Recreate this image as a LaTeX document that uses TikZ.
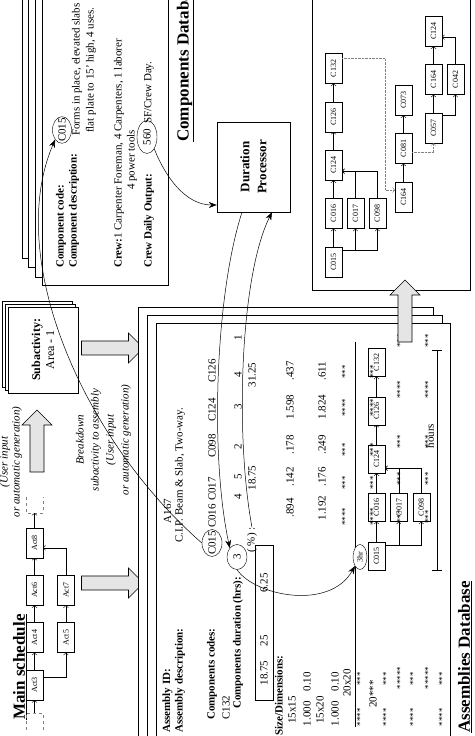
\documentclass[tikz,border=0pt]{standalone}
\usepackage{fontspec}
\setmainfont{Liberation Serif}
\usetikzlibrary{positioning,arrows.meta,shapes.geometric}

\tikzset{
  page/.style={draw, fill=white, line width=0.6pt},
  act/.style={draw, minimum width=30pt, minimum height=17pt, inner sep=0pt, font=\fontsize{8}{9}\selectfont},
  comp/.style={act},
  acomp/.style={act, minimum width=28pt},
  bigarrow/.pic={\draw[fill=gray!20, line width=0.6pt] (-31,7) -- (16,7) -- (16,15) -- (31,0)
    -- (16,-15) -- (16,-7) -- (-31,-7) -- cycle;},
  link/.style={-{Stealth[length=8pt,width=6pt]}, line width=0.5pt},
  circ/.style={ellipse, draw, inner xsep=-2.5pt, inner ysep=0.5pt},
  title/.style={font=\fontsize{17}{20}\selectfont\bfseries, inner sep=0pt},
  txt/.style={font=\fontsize{11}{13}\selectfont, inner sep=0pt},
  stars/.style={font=\fontsize{9}{10}\selectfont, inner sep=0pt},
  note/.style={font=\fontsize{11}{15}\selectfont\itshape, align=center, inner sep=0pt},
}

\begin{document}
\begin{tikzpicture}[rotate=90, transform shape, x=1pt, y=1pt, >=To]
\useasboundingbox (0,-474) rectangle (736,0);

% main schedule
\node[title] (mstitle) at (69,-20) {\underline{Main schedule}};
\node[act] (act3) at (51,-34.5) {Act3};
\node[act, right=17pt of act3] (act4) {Act4};
\node[act, right=17pt of act4] (act6) {Act6};
\node[act, right=17pt of act6] (act8) {Act8};
\node[act, below=14pt of act4] (act5) {Act5};
\node[act, below=14pt of act6] (act7) {Act7};
\coordinate (pre) at (23,-34.5);
\coordinate (post) at (223,-34.5);
\draw[gray, dashed] (6,-26) -| (pre) |- (6,-43);
\draw[gray, dashed] (239,-26) -| (post) |- (239,-43);
\draw[->] (pre) -- (act3);
\draw[->] (act3) -- (act4);
\draw[->] (act4) -- (act6);
\draw[->] (act6) -- (act8);
\draw[->] (act8) -- (post);
\draw[->] ([xshift=8pt]act3.south) |- (act5);
\draw[->] (act5) -- (act7);
\draw[->] (act7) -| ([xshift=-5pt]act8.south);

\node[note, font=\fontsize{11}{12}\selectfont\itshape] (usernote) at (274,-11) {(User input\\or automatic generation)};
\pic (toSub) at (295,-37) {bigarrow};

% subactivity
\draw[page] (349,-2) rectangle (435,-72);
\draw[page] (346,-5) rectangle (432,-75);
\node[draw, fill=white, minimum width=86pt, minimum height=70pt, align=center,
  font=\fontsize{12}{14}\selectfont] (sub) at (386,-43) {\textbf{Subactivity:}\\Area - 1};
\node[note] (breaknote) at (296,-103.5)
  {Breakdown\\subactivity to assembly\\(User input\\or automatic generation)};
\pic[rotate=-90] (toAsmA) at (388,-112.5) {bigarrow};
\pic[rotate=-90] (toAsmB) at (153,-112.5) {bigarrow};

% assemblies database
\draw[page] (-10,-138) rectangle (429,-433);
\draw[page] (-10,-147) rectangle (421,-442);
\draw[page] (-10,-156) rectangle (413,-450);
\node[title, anchor=west] (asmtitle) at (3,-465) {\underline{Assemblies Database}};

\node[txt, anchor=west] at (3,-167.5) {\textbf{Assembly ID:}};
\node[txt] at (225,-167.5) {A167};
\node[txt, anchor=west] at (3,-180) {\textbf{Assembly description:}};
\node[txt, anchor=west] at (193,-180) {C.I.P. Beam \& Slab, Two-way.};
\node[txt, anchor=west] at (16,-212) {\textbf{Components codes:}};
\node[txt, circ, minimum width=27pt, minimum height=20pt] (ac015e) at (193,-212) {C015};
\foreach \u/\c in {220/C016, 247/C017, 290/C098, 326/C124, 365/C126}
  \node[txt] at (\u,-212) {\c};
\node[txt, anchor=west] at (16,-226) {C132};
\node[txt, anchor=west] at (27,-238) {\textbf{Components duration (hrs):}};
\node[txt, circ, minimum width=25pt, minimum height=20pt] (dur3) at (179,-237) {3};
\foreach \u/\c in {239/4, 259/5, 289/2, 329/3, 361/4, 398/1}
  \node[txt] at (\u,-238) {\c};
\node[txt] (pct) at (196,-252) {( \%) :};
\node[txt] at (258,-252) {18.75};
\node[txt] at (361,-252) {31.25};
\draw (36,-255) rectangle (191,-273);
\foreach \u/\c in {63/18.75, 95/25, 153/6.25}
  \node[txt] at (\u,-264) {\c};
\node[txt, anchor=west] at (0,-279) {\textbf{Size/Dimensions:}};
\node[txt] at (26,-292) {15x15};
\foreach \u/\c in {228/.894, 259/.142, 291/.178, 329/1.598, 365/.437}
  \node[txt] at (\u,-290) {\c};
\node[txt] at (37,-307) {1.000\hspace{10pt}0.10};
\node[txt] at (26,-320) {15x20};
\foreach \u/\c in {228/1.192, 259/.176, 291/.249, 329/1.824, 365/.611}
  \node[txt] at (\u,-322) {\c};
\node[txt] at (37,-335) {1.000\hspace{10pt}0.10};
\node[txt] at (53,-347) {20x20};
\foreach \v in {-345,-373}
  \foreach \u/\s in {219/****, 253/***, 286/***, 328/****, 364/***}
    \node[stars] at (\u,\v) {\s};
\foreach \v in {-360,-386,-413,-442} {
  \node[stars] at (19,\v) {****};
  \node[stars] at (57,\v) {***};
}
\node[txt] at (42,-373) {20***};
\node[stars] at (58,-400) {*****};
\node[stars] at (58,-428) {*****};
\foreach \v in {-400,-428}
  \foreach \u/\s in {219/***, 257/***, 294/***, 346/****, 395/***}
    \node[stars] at (\u,\v) {\s};

% assembly network
\draw (9,-355) -- (394,-355);
\node[circ, fill=white, minimum width=25pt, minimum height=14pt, font=\fontsize{8}{9}\selectfont] (hr3) at (179,-360) {3hr};
\node[acomp] (ac015) at (180,-376.5) {C015};
\node[acomp, right=20pt of ac015] (ac016) {C016};
\node[acomp, below=5pt of ac016] (ac017) {C017};
\node[acomp, below=5pt of ac017] (ac098) {C098};
\node[acomp, right=20pt of ac016] (ac124) {C124};
\node[acomp, right=20pt of ac124] (ac126) {C126};
\node[acomp, right=20pt of ac126] (ac132) {C132};
\draw[->] (ac015) -- (ac016);
\draw[->] ([xshift=11pt]ac015.south) |- (ac017);
\draw[->] ([xshift=11pt]ac015.south) |- (ac098);
\draw[->] (ac016) -- (ac124);
\draw[->] (ac017) -| ([xshift=-9pt]ac124.south);
\draw[->] (ac098) -| ([xshift=-9pt]ac124.south);
\draw[->] (ac124) -- (ac126);
\draw[->] (ac126) -- (ac132);
\draw (166,-432) -- (166,-442);
\draw (386,-432) -- (386,-442);
\draw (166,-437) -- (386,-437);
\node[txt] (hours) at (300,-430) {hours};

% components database
\draw[page] (478,-22) rectangle (746,-150);
\draw[page] (469,-28) rectangle (746,-155);
\draw[page] (459,-35) rectangle (746,-161);
\draw[page] (451,-42) rectangle (746,-168);
\node[title, anchor=west] (comptitle) at (594,-185.5) {\underline{Components Database}};
\node[txt, anchor=west] at (468,-61) {\textbf{Component code:}};
\node[txt, circ, minimum width=26pt, minimum height=19pt] (cc015e) at (606,-62) {C015};
\node[txt, anchor=west] at (468,-74) {\textbf{Component description:}};
\node[txt, anchor=west] at (600,-77) {Forms in place, elevated slabs};
\node[txt, anchor=west] at (603,-91) {flat plate to 15' high, 4 uses.};
\node[txt, anchor=west] at (468,-119) {\textbf{Crew:}1 Carpenter Foreman, 4 Carpenters, 1 laborer};
\node[txt] at (576,-132) {4 power tools};
\node[txt, anchor=west] at (468,-149) {\textbf{Crew Daily Output:}};
\node[txt, circ, minimum width=33pt, minimum height=20pt] (e560) at (599,-147) {560};
\node[txt, anchor=west] at (612,-149) {SF/Crew Day.};

\node[draw, minimum width=90pt, minimum height=73pt, align=center,
  font=\fontsize{13}{17}\selectfont\bfseries] (dp) at (569,-253.5) {Duration\\Processor};

% components network
\draw[page] (446,-312) rectangle (746,-470);
\node[comp] (nc015) at (474,-333.5) {C015};
\node[comp, right=18pt of nc015] (nc016) {C016};
\node[comp, below=4.5pt of nc016] (nc017) {C017};
\node[comp, below=4.5pt of nc017] (nc098) {C098};
\node[comp, right=18pt of nc016] (nc124) {C124};
\node[comp, right=18pt of nc124] (nc126) {C126};
\node[comp, right=18pt of nc126] (nc132) {C132};
\node[comp] (nc164a) at (539,-403.5) {C164};
\node[comp, right=18pt of nc164a] (nc081) {C081};
\node[comp, right=18pt of nc081] (nc073) {C073};
\node[comp] (nc057) at (608,-433.5) {C057};
\node[comp, right=18pt of nc057] (nc164b) {C164};
\node[comp, right=18pt of nc164b] (nc124b) {C124};
\node[comp, below=4.5pt of nc164b] (nc042) {C042};
\draw[->] (nc015) -- (nc016);
\draw[->] ([xshift=12pt]nc015.south) |- (nc017);
\draw[->] ([xshift=12pt]nc015.south) |- (nc098);
\draw[->] (nc016) -- (nc124);
\draw[->] (nc017) -| ([xshift=-6pt]nc124.south);
\draw[->] (nc098) -| ([xshift=-6pt]nc124.south);
\draw[->] (nc124) -- (nc126);
\draw[->] (nc126) -- (nc132);
\draw[->, gray, densely dotted] ([xshift=10pt]nc132.south) -- ++(0,-43) -| ([xshift=7pt]nc164a.north);
\draw[->] (nc164a) -- (nc081);
\draw[->] (nc081) -- (nc073);
\draw[->, gray, densely dotted] ([xshift=-4pt]nc081.south) |- (nc057.west);
\draw[->] (nc057) -- (nc164b);
\draw[->] (nc164b) -- (nc124b);
\draw[->] ([xshift=13pt]nc057.south) |- (nc042);
\draw[->] (nc042) -| ([xshift=-6pt]nc124b.south);
\pic (toNet) at (425,-405) {bigarrow};

% links
\draw[link] (ac015e.north) .. controls (300,-80) and (480,-5) .. (cc015e.north west);
\draw[link] (e560.south west) .. controls (560,-165) and (531,-185) .. ([xshift=-38pt]dp.north);
\draw[link] ([yshift=11.5pt]dp.west) .. controls (440,-215) and (280,-210) .. (dur3.north east);
\draw[link] (pct.east) .. controls (300,-235) and (460,-240) .. ([yshift=-18.5pt]dp.west);
\draw[link] (dur3.west) .. controls (140,-255) and (125,-330) .. (hr3.north west);
\end{tikzpicture}
\end{document}
